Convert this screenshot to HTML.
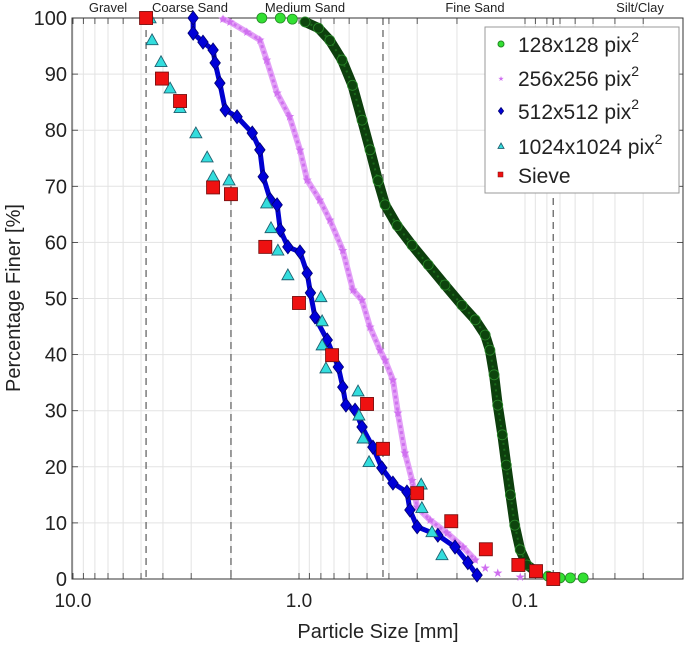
<!DOCTYPE html>
<html><head><meta charset="utf-8"><style>
html,body{margin:0;padding:0;background:#fff;}
svg{display:block;font-family:"Liberation Sans",Arial,sans-serif;}
</style></head><body>
<svg id="chart" width="685" height="646" viewBox="0 0 685 646" xmlns="http://www.w3.org/2000/svg"></svg>
<script>
// ---- data ----
const yTicks = [0,10,20,30,40,50,60,70,80,90,100];
const xTickValues = [10,1,0.1];
const xTickLabels = ["10.0","1.0","0.1"];
const classBounds = [4.75,2,0.425,0.075];
const classLabels = ["Gravel","Coarse Sand","Medium Sand","Fine Sand","Silt/Clay"];
const classLabelX = [108,190,305,475,640];

const g128Size = [1.46,1.21,1.07,0.94,0.82,0.73,0.645,0.58,0.526,0.485,0.447,0.416,0.368,0.316,0.268,0.226,0.19,0.166,0.15,0.143,0.137,0.132,0.126,0.121,0.116,0.111,0.105,0.098,0.0885,0.079,0.07,0.063,0.0553];
const g128Pct  = [100,100,99.8,99.3,98.2,96,92.5,88,81.8,76.5,71,66.7,63,59.5,56,52.4,48.8,46.2,43.5,40.8,36.4,31,25.7,20.3,15,9.6,5.2,2.5,1.2,0.5,0.2,0.2,0.2];

const g256Size = [2.17,2.02,1.70,1.49,1.39,1.25,1.10,0.99,0.92,0.81,0.73,0.64,0.577,0.526,0.485,0.438,0.416,0.384,0.365,0.34,0.316,0.30,0.263,0.221,0.188,0.166,0.15,0.132,0.105];
const g256Pct  = [99.8,99.3,97.5,96.1,92.5,86.6,82.4,76.5,71.1,67.6,64,58.6,51.5,49.7,44.9,40.8,39,35.5,29.6,22.5,17.6,12.8,10.5,8.2,5.7,3.4,2,1.1,0.4];

const g512Size = [2.94,2.94,2.66,2.40,2.35,2.24,2.12,1.88,1.61,1.49,1.44,1.34,1.25,1.21,1.12,0.99,0.92,0.89,0.85,0.75,0.67,0.64,0.62,0.565,0.526,0.471,0.43,0.384,0.333,0.323,0.30,0.243,0.204,0.179,0.163];
const g512Pct  = [100,97.3,95.7,94.3,92,88.4,83.6,82.4,79.5,76.5,71.7,67.6,66.7,62.2,59.2,58.3,54.5,51,46.7,42.6,37.8,34.2,31,30.1,27.1,23.5,19.8,17.1,15.5,12.3,9.3,7.8,5.7,2.9,0.7];

const g1024Size = [4.56,4.47,4.08,3.72,3.36,2.86,2.55,2.40,2.04,1.39,1.33,1.24,1.12,0.80,0.79,0.79,0.76,0.548,0.543,0.521,0.49,0.288,0.286,0.258,0.233];
const g1024Pct  = [100,96.1,92.2,87.5,84,79.5,75.2,71.8,71.1,67,62.6,58.6,54.2,50.3,46,41.7,37.6,33.5,29.2,25.1,20.9,16.9,12.7,8.4,4.3];

const sieveSize = [4.75,4.04,3.36,2.40,2.0,1.41,1.0,0.714,0.5,0.425,0.30,0.212,0.149,0.107,0.0894,0.075];
const sievePct  = [100,89.2,85.2,69.8,68.6,59.2,49.2,39.9,31.2,23.2,15.3,10.3,5.3,2.5,1.4,0];

// ---- layout ----
const L=72, R=683, T=18, B=579;
const decade=226, xAt10=73;
function xs(d){ return xAt10 + (1 - Math.log10(d))*decade; }
function ys(p){ return B - (p/100)*(B-T); }

const NS="http://www.w3.org/2000/svg";
const svg=document.getElementById('chart');
function el(tag,attrs,parent){const e=document.createElementNS(NS,tag);for(const k in attrs)e.setAttribute(k,attrs[k]);(parent||svg).appendChild(e);return e;}

const bg=el('rect',{x:L,y:T,width:R-L,height:B-T,fill:'#fff'});



const grid=el('g',{});


const minorVals=[];
[10,1,0.1,0.01].forEach(dec=>{for(let m=1;m<=9;m++){minorVals.push(m*dec);}});
minorVals.forEach(v=>{
  const x=xs(v);
  if(x<L-0.5||x>R+0.5) return;
  el('line',{x1:x,x2:x,y1:T,y2:B,stroke:'#e3e3e3','stroke-width':1},grid);
  el('line',{x1:x,x2:x,y1:B,y2:B-6,stroke:'#333','stroke-width':0.8},grid);
  el('line',{x1:x,x2:x,y1:T,y2:T+6,stroke:'#333','stroke-width':0.8},grid);
});
yTicks.forEach(p=>{
  const y=ys(p);
  el('line',{x1:L,x2:R,y1:y,y2:y,stroke:'#e3e3e3','stroke-width':1},grid);
  el('line',{x1:L,x2:L+6,y1:y,y2:y,stroke:'#333','stroke-width':0.8},grid);
  el('line',{x1:R,x2:R-6,y1:y,y2:y,stroke:'#333','stroke-width':0.8},grid);
});

classBounds.forEach(v=>{
  const l=el('line',{x1:xs(v),x2:xs(v),y1:T,y2:B,stroke:'#666','stroke-width':1.3,'stroke-dasharray':'7,5'});
  
  
});
classLabels.forEach((t,i)=>{
  const tx=el('text',{x:classLabelX[i],y:12,'font-size':13,'text-anchor':'middle',fill:'#222'});
  tx.textContent=t;
  
  
});

const frame=el('rect',{x:L,y:T,width:R-L,height:B-T,fill:'none',stroke:'#333','stroke-width':1});



yTicks.forEach(p=>{
  const t=el('text',{x:L-5,y:ys(p)+7,'font-size':20,'text-anchor':'end',fill:'#222'});
  t.textContent=String(p);
  
  
});
xTickValues.forEach((v,i)=>{
  const t=el('text',{x:xs(v),y:607,'font-size':19,'text-anchor':'middle',fill:'#222'});
  t.textContent=xTickLabels[i];
  
  
});
const xt=el('text',{x:378,y:638,'font-size':20,'text-anchor':'middle',fill:'#222'});
xt.textContent='Particle Size [mm]';


const yt=el('text',{x:0,y:0,'font-size':20,'text-anchor':'middle',fill:'#222',transform:'translate(20,298) rotate(-90)'});
yt.textContent='Percentage Finer [%]';



function pts(sz,pc){return sz.map((d,i)=>xs(d)+','+ys(pc[i])).join(' ');}
function diamond(x,y,r,g,fill,stroke){return el('polygon',{points:`${x},${y-r} ${x+r*0.75},${y} ${x},${y+r} ${x-r*0.75},${y}`,fill:fill,stroke:stroke,'stroke-width':0.8},g);}
function tri(x,y,r,g){return el('polygon',{points:`${x},${y-r} ${x+r},${y+r*0.8} ${x-r},${y+r*0.8}`,fill:'#33dddd',stroke:'#206070','stroke-width':0.9},g);}

// 128
const s1=el('g',{});


el('polyline',{points:pts(g128Size.slice(3,29),g128Pct.slice(3,29)),fill:'none',stroke:'#0d3f0d','stroke-width':10,'stroke-linejoin':'round','stroke-linecap':'round'},s1);
el('polyline',{points:pts(g128Size.slice(3,29),g128Pct.slice(3,29)),fill:'none',stroke:'#1a6a1a','stroke-width':2,'stroke-dasharray':'2,4'},s1);
g128Size.forEach((d,i)=>{
  const edge = (i<3||i>27);
  const c=el('circle',{cx:xs(d),cy:ys(g128Pct[i]),r:5,fill:edge?'#33e033':'#0d450d',stroke:edge?'#228822':'#2a8a2a','stroke-width':0.8},s1);
  
  
});

// 256
const s2=el('g',{});


el('polyline',{points:pts(g256Size.slice(0,26),g256Pct.slice(0,26)),fill:'none',stroke:'#e3a0f7','stroke-width':6,'stroke-linejoin':'round','stroke-linecap':'round'},s2);
el('polyline',{points:pts(g256Size.slice(0,26),g256Pct.slice(0,26)),fill:'none',stroke:'#cf72ef','stroke-width':3,'stroke-dasharray':'3,3'},s2);
g256Size.forEach((d,i)=>{
  const c=el('text',{x:xs(d),y:ys(g256Pct[i])+4,'font-size':12,'text-anchor':'middle',fill:'#d070f0'},s2);
  c.textContent='★';
  
  
});

// 512
const s3=el('g',{});


el('polyline',{points:pts(g512Size,g512Pct),fill:'none',stroke:'#0000d0','stroke-width':5,'stroke-linejoin':'round'},s3);
g512Size.forEach((d,i)=>{
  const c=diamond(xs(d),ys(g512Pct[i]),7,s3,'#0000d8','#000070');
  
  
});

// 1024
const s4=el('g',{});


g1024Size.forEach((d,i)=>{
  const c=tri(xs(d),ys(g1024Pct[i]),6,s4);
  
  
});

// sieve
const s5=el('g',{});


sieveSize.forEach((d,i)=>{
  const c=el('rect',{x:xs(d)-6.5,y:ys(sievePct[i])-6.5,width:13,height:13,fill:'#ee1111',stroke:'#7a1010','stroke-width':0.9},s5);
  
  
});

// legend
const lg=el('g',{});


el('rect',{x:485,y:27,width:194,height:166,fill:'#fff',stroke:'#999','stroke-width':1},lg);
const legendNames=['128x128 pix','256x256 pix','512x512 pix','1024x1024 pix','Sieve'];
const legendY=[50,84,117,152,181];
legendNames.forEach((n,i)=>{
  const y=legendY[i];
  if(i===0) el('circle',{cx:501,cy:y-6,r:3,fill:'#33e033',stroke:'#228822'},lg);
  if(i===1) el('text',{x:501,y:y-3,'font-size':7,'text-anchor':'middle',fill:'#d070f0'},lg).textContent='★';
  if(i===2) diamond(501,y-6,3.5,lg,'#0000d8','#000070');
  if(i===3) tri(501,y-6,3,lg);
  if(i===4) el('rect',{x:498,y:y-9,width:5,height:5,fill:'#ee1111',stroke:'#7a1010','stroke-width':0.5},lg);
  const t=el('text',{x:518,y:y+2,'font-size':21,fill:'#222'},lg);
  t.textContent=n;
  
  
  if(i<4){const s=el('tspan',{dy:-10,'font-size':14},t);s.textContent='2';}
});
</script>
</body></html>
